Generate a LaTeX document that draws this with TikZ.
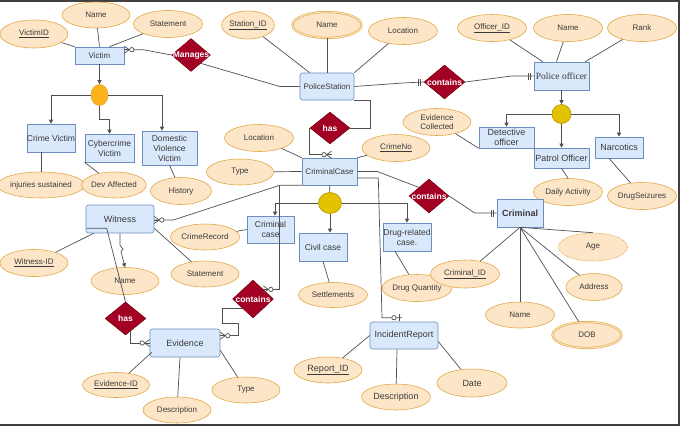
\documentclass[tikz,border=0pt]{standalone}
\usepackage{fontspec}
\setmainfont{Liberation Sans}
\newfontfamily\serifpo{Liberation Serif}
\usetikzlibrary{shapes.geometric,arrows.meta,calc}
\definecolor{attrfill}{HTML}{FDE6C8}
\definecolor{attrdraw}{HTML}{E0A43C}
\definecolor{entfill}{HTML}{DAE8FC}
\definecolor{entdraw}{HTML}{6C8EBF}
\definecolor{relfill}{HTML}{A20025}
\definecolor{reldraw}{HTML}{6F0000}
\definecolor{txt}{HTML}{3A3A3A}
\definecolor{lin}{HTML}{505050}
\definecolor{yel}{HTML}{E3C200}
\definecolor{yeld}{HTML}{B09500}
\definecolor{org}{HTML}{FFB21A}
\newcommand\fEight{\fontsize{8}{9}\selectfont}
\newcommand\fEightH{\fontsize{8.5}{10}\selectfont}
\newcommand\fNine{\fontsize{9}{10}\selectfont}
\tikzset{
  conn/.style={draw=lin, line width=0.7pt},
  arr/.style={conn, -{Triangle[length=4pt,width=4pt]}},
  sz/.style 2 args={minimum width=#1pt, minimum height=#2pt},
  attr/.style={ellipse, draw=attrdraw, fill=attrfill, line width=0.55pt, inner sep=0pt, text=txt, font=\fEight, align=center},
  dbl/.style={double=attrfill, double distance=1pt},
  ent/.style={rectangle, draw=entdraw, fill=entfill, line width=0.6pt, inner sep=0pt, text=txt, font=\fEight, align=center},
  rent/.style={ent, rounded corners=2.5pt},
  rel/.style={diamond, draw=reldraw, fill=relfill, inner sep=0pt, text=white, font=\bfseries\fontsize{8.5}{9}\selectfont},
  isa/.style={ellipse, inner sep=0pt, line width=0.6pt},
  zmany/.pic={\draw[conn] (0,-3.5) -- (5,0) -- (0,3.5); \draw[conn] (0,0) -- (5,0); \draw[conn,fill=white] (7.5,0) circle (2.2pt);},
  mone/.pic={\draw[conn] (3,-3.5) -- (3,3.5); \draw[conn] (5.5,-3.5) -- (5.5,3.5);},
  zone/.pic={\draw[conn] (3,-3.5) -- (3,3.5); \draw[conn,fill=white] (8,0) circle (2.2pt);}
}
\begin{document}
\begin{tikzpicture}[x=1pt,y=-1pt]
\useasboundingbox (0,0) rectangle (680,426);
\fill[white] (0,0) rectangle (680,426);
\fill[black!75] (0,0) rectangle (680,1.5);
\fill[black!75] (677.5,0) rectangle (680,426);
\fill[black!75] (0,423.5) rectangle (680,426);

% ---------- Victim cluster
\node[ent, sz={49}{17}] (victim) at (99.5,55.5) {Victim};
\node[attr, sz={68}{28}] (vid) at (34,34) {\underline{VictimID}};
\node[attr, sz={68}{26}] (vname) at (96,15) {Name};
\node[attr, sz={69}{27}] (vstmt) at (168,24) {Statement};
\node[isa, fill=org, draw=attrdraw, sz={17}{21}] (cv) at (99.5,95) {};
\node[ent, sz={48}{28}, font=\fEightH] (crimev) at (51,138) {Crime Victim};
\node[ent, sz={49}{28}, font=\fEightH] (cyber) at (109.5,148) {Cybercrime\\Victim};
\node[ent, sz={55}{34}, font=\fEightH] (domv) at (169.5,148) {Domestic\\Violence\\Victim};
\node[attr, sz={68}{26}] (injur) at (41,185) {injuries sustained};
\node[attr, sz={59}{26}] (devaff) at (114,185) {Dev Affected};
\node[attr, sz={61}{27}] (hist) at (181,191) {History};
\node[rel, sz={39}{33}] (manages) at (191,55) {\makebox[0pt]{Manages}};

% ---------- Police station
\node[rent, sz={54}{27}] (ps) at (327,86.5) {PoliceStation};
\node[attr, sz={47}{28}] (stid) at (248,25) {\underline{Station\_ID}};
\node[attr, dbl, sz={69}{26}] (psname) at (327,25) {Name};
\node[attr, sz={69}{27}] (psloc) at (403,31) {Location};
\node[rel, sz={41}{34}] (ct) at (444.5,82) {\makebox[0pt]{contains}};

% ---------- Police officer
\node[ent, sz={55}{28}, font=\serifpo\fontsize{9.5}{11}\selectfont] (po) at (561.5,76) {Police officer};
\node[attr, sz={69}{27}] (offid) at (492,28) {\underline{Officer\_ID}};
\node[attr, sz={69}{27}] (poname) at (568,28) {Name};
\node[attr, sz={69}{27}] (rank) at (642,28) {Rank};
\node[isa, fill=yel, draw=yeld, sz={19}{19}] (cp) at (561.5,114) {};
\node[ent, sz={55}{21}, font=\fNine] (det) at (506.5,137.5) {Detective\\officer};
\node[ent, sz={55}{20}, font=\fNine] (patrol) at (561.5,158) {Patrol Officer};
\node[ent, sz={48}{21}, font=\fNine] (narc) at (619,147.5) {Narcotics};
\node[attr, sz={68}{27}] (evcol) at (437,122) {Evidence\\Collected};
\node[attr, sz={69}{27}] (daily) at (568,192) {Daily Activity};
\node[attr, sz={69}{27}] (drugsz) at (642,196) {DrugSeizures};

% ---------- Criminal case
\node[ent, sz={55}{27}] (cc) at (329.5,171.5) {CriminalCase};
\node[rel, sz={40}{32}] (has1) at (330,128) {\makebox[0pt]{has}};
\node[attr, sz={69}{27}] (ccloc) at (259,138) {Location};
\node[attr, sz={68}{27}] (crimeno) at (396,148) {\underline{CrimeNo}};
\node[attr, sz={67}{26}] (type1) at (240,172) {Type};
\node[isa, fill=yel, draw=yeld, sz={23}{21}] (cc0) at (330,203) {};
\node[ent, sz={47}{27}, font=\fEightH] (crimcase) at (270.5,229.5) {Criminal\\case};
\node[ent, sz={48}{28}, font=\fEightH] (civil) at (323,247) {Civil case};
\node[ent, sz={48}{28}, font=\fEightH] (drug) at (407,237) {Drug-related\\case.};
\node[attr, sz={69}{26}] (crimerec) at (205,237) {CrimeRecord};
\node[attr, sz={69}{25}] (settle) at (333,295) {Settlements};
\node[attr, sz={67}{27}] (drugq) at (417,288) {Drug Quantity};
\node[rel, sz={40}{34}] (ct3) at (429,196) {\makebox[0pt]{contains}};

% ---------- Criminal
\node[ent, sz={46}{28}, font=\bfseries\fNine] (crim) at (520,213) {Criminal};
\node[attr, sz={69}{28}] (crimid) at (465,274) {\underline{Criminal\_ID}};
\node[attr, sz={69}{26}] (cname) at (520,315) {Name};
\node[attr, sz={69}{28}, dash pattern=on 1.5pt off 1pt] (age) at (593,247) {Age};
\node[attr, sz={56}{27}] (addr) at (594,287) {Address};
\node[attr, dbl, sz={69}{26}] (dob) at (587,335) {DOB};

% ---------- Witness / Evidence
\node[rent, sz={68}{28}, font=\fNine] (wit) at (120,219) {Witness};
\node[attr, sz={68}{27}] (witid) at (34,263) {\underline{Witness-ID}};
\node[attr, sz={68}{27}] (wname) at (125,281) {Name};
\node[attr, sz={68}{26}] (stmt2) at (205,274) {Statement};
\node[rel, sz={41}{33}] (has2) at (125.5,318.5) {\makebox[0pt]{has}};
\node[rent, sz={70}{28}, font=\fNine] (evd) at (185,343) {Evidence};
\node[rel, sz={41}{38}] (ct2) at (253,299) {\makebox[0pt]{contains}};
\node[attr, sz={67}{25}] (evid) at (116,385) {\underline{Evidence-ID}};
\node[attr, sz={68}{26}] (desc1) at (177,410) {Description};
\node[attr, sz={68}{26}] (type2) at (246,390) {Type};

% ---------- Incident report
\node[rent, sz={68}{27}, font=\fNine] (ir) at (404,335.5) {IncidentReport};
\node[attr, sz={68}{26}, font=\fNine] (repid) at (328,370) {\underline{Report\_ID}};
\node[attr, sz={69}{26}, font=\fNine] (desc2) at (396,397) {Description};
\node[attr, sz={70}{28}, font=\fNine] (date) at (472,383) {Date};

% ================= connectors
% Victim
\draw[conn] (vid) -- (victim.north west);
\draw[conn] (vname) -- (victim.north);
\draw[conn] (vstmt) -- ($(victim.north)+(10,0)$);
\draw[arr] (victim) -- (cv);
\draw[arr] (cv.west) -| (crimev.north);
\draw[arr] (cv.south) -- ++(0,14) -| (cyber.north);
\draw[arr] (cv.east) -| ($(domv.north)+(-7.5,0)$);
\draw[conn] (injur) -- (injur |- crimev.south);
\draw[conn] (cyber.south west) -- (devaff);
\draw[conn] (domv.south) -- (hist);
\coordinate (vm) at ($(victim.north east)+(0,3)$);
\draw[conn] (vm) -- ++(19,0) -- (manages.west);
\pic at (vm) {zmany};
\draw[conn] (manages.south east) -- ($(ps.west)+(-20,0)$) -- (ps.west);

% Police station
\draw[conn] (stid) -- ($(ps.north west)+(10,0)$);
\draw[conn] (psname) -- (ps.north);
\draw[conn] (psloc) -- (ps.north east);
\draw[conn] (ps.east) -- ($(ct.west)+(-21,1)$) -- (ct.west);
\pic[rotate=180] at (ct.west) {mone};
\draw[conn] (ct.east) -- ($(po.west)+(-22,0)$) -- (po.west);
\pic[rotate=180] at (po.west) {mone};

% Police officer
\draw[conn] (offid) -- ($(po.north west)+(9,0)$);
\draw[conn] (poname) -- ($(po.north)+(-5,0)$);
\draw[conn] (rank) -- ($(po.north east)+(-4,0)$);
\draw[arr] (po) -- (cp);
\draw[arr] (cp.west) -| (det.north);
\draw[arr] (cp) -- (patrol);
\draw[arr] (cp.east) -| (narc.north);
\draw[conn] (evcol) -- (det.south west);
\draw[conn] (patrol.south) -- (daily.north);
\draw[conn] ($(narc.south)+(-10,0)$) -- (drugsz);

% Criminal case
\draw[conn] (ps.south east) -- ++(16,0) |- (has1.east);
\coordinate (hcc) at ($(cc.north)+(2,-3)$);
\draw[conn] (has1.west) |- (hcc);
\pic[rotate=180] at (hcc) {zmany};
\draw[conn] (ccloc) -- (cc.north west);
\draw[conn] (crimeno) -- (cc.north east);
\draw[conn] (type1) -- (cc.west);
\draw[conn] (cc) -- (cc0);
\draw[arr] (cc0.west) -| ($(crimcase.north)+(4.5,0)$);
\draw[arr] (cc0.south) -- (cc0.south |- civil.north);
\draw[arr] (cc0.east) -| (drug.north);
\draw[conn] (crimerec) -- (crimcase.west);
\draw[conn] (civil.south) -- (settle);
\draw[conn] ($(drug.south)+(-12,0)$) -- (drugq);

% CriminalCase - Witness
\coordinate (ccw) at ($(cc.south west)+(-22,0)$);
\coordinate (wce) at ($(wit.east)+(0,1)$);
\draw[conn] (cc.south west) -- (ccw) -- ($(wce)+(19,0)$) -- (wce);
\pic at (wce) {zmany};

% CriminalCase - contains - Evidence
\draw[conn] (ccw) |- (ct2.north east);
\pic at (ct2.north east) {zmany};
\coordinate (eve) at ($(evd.north east)+(0,7)$);
\draw[conn] (ct2.south west) -- ++(-20,0) -- ++(0,15) -- ++(16,0) |- (eve);
\pic at (eve) {zmany};

% Witness
\draw[conn] (witid) -- ($(wit.south west)+(8,0)$);
\draw[conn] ($(wit.south east)+(0,-5)$) -- (stmt2);
\draw[arr] (wit.south) -- ++(0,12) -- ++(3,4) -- ++(-2,2) -- (wname.north);
\draw[conn] ($(wit.south west)+(1,-5)$) -- ++(20,0) -- (has2.north);
\draw[conn] ($(has2.south)+(5,-4)$) |- (evd.west);
\pic[rotate=180] at (evd.west) {zmany};

% Evidence
\draw[conn] (evid) -- ($(evd.south west)+(2,-5)$);
\draw[conn] (desc1) -- ($(evd.south)+(-5,0)$);
\draw[conn] (type2) -- ($(evd.south east)+(0,-7)$);

% CriminalCase - IncidentReport
\coordinate (cci) at ($(cc.east)+(21,6.5)$);
\coordinate (ire) at ($(ir.north)+(-2,-4)$);
\draw[conn] ($(cc.east)+(0,6.5)$) -- (cci) -- ($(ire)+(-20,0)$) -- (ire);
\pic[rotate=180] at (ire) {zone};

% IncidentReport
\draw[conn] (repid) -- (ir.west);
\draw[conn] ($(ir.south)+(-7,0)$) -- (desc2);
\draw[conn] (date) -- ($(ir.east)+(0,6)$);

% CriminalCase - contains - Criminal
\draw[conn] (cc.east) -- ($(cc.east)+(20,0)$) -- (ct3.north west);
\draw[conn] (ct3.east) -- ($(crim.west)+(-22,0)$) -- (crim.west);
\pic[rotate=180] at (crim.west) {mone};

% Criminal attributes
\draw[conn] (crim.south) -- (crimid);
\draw[conn] (crim.south) -- (cname.north);
\draw[conn] (crim.south) -- (age.north);
\draw[conn] (crim.south) -- (addr);
\draw[conn] (crim.south) -- (dob);
\end{tikzpicture}
\end{document}
